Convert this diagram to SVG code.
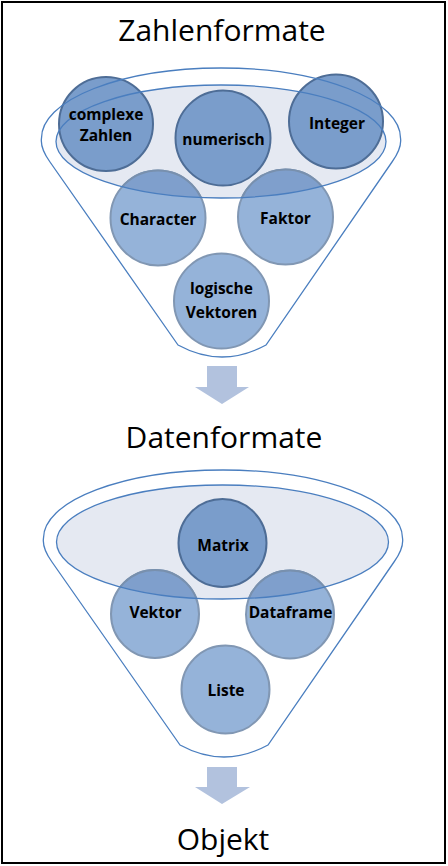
<svg xmlns="http://www.w3.org/2000/svg" width="448" height="866" viewBox="0 0 448 866">
<style>
.frame{fill:#fff;stroke:#000;stroke-width:2}
.title{font-family:"Open Sans","Liberation Sans",sans-serif;font-size:30px;fill:#000;text-anchor:middle}
.lbl{font-family:"Open Sans","Liberation Sans",sans-serif;font-size:15.5px;font-weight:bold;fill:#000;text-anchor:middle}
.funnel{fill:none;stroke:#4a7ebf;stroke-width:1.3}
.ell{fill:#e5e9f2}
.ellStroke{fill:none;stroke:#4a7ebf;stroke-width:1.3}
.top{fill:#7a9dcb;stroke:#4e6d96;stroke-width:2}
.low{fill:#95b3d9;stroke:#8197b3;stroke-width:2}
.lowDark{fill:#7f9fcc;stroke:#7890ae;stroke-width:2}
.arrow{fill:#b2c2de}
</style>
<defs>
<clipPath id="clipE1"><ellipse cx="221" cy="141.5" rx="165" ry="56.5"/></clipPath>
<clipPath id="clipE2"><ellipse cx="222.5" cy="542" rx="166" ry="57"/></clipPath>
</defs>
<rect class="frame" x="2" y="2" width="443" height="861"/>

<g id="title-zahlenformate"><text class="title" x="222" y="41">Zahlenformate</text></g>

<g id="funnel1">
<ellipse class="ell" cx="221" cy="141.5" rx="165" ry="56.5"/>
</g>
<g id="node-character"><circle class="low" cx="158" cy="218" r="47.5"/></g>
<g id="node-faktor"><circle class="low" cx="285.5" cy="217" r="47.5"/></g>
<g id="node-logische"><circle class="low" cx="221.5" cy="301" r="47.5"/></g>
<g clip-path="url(#clipE1)">
<circle class="lowDark" cx="158" cy="218" r="47.5"/>
<circle class="lowDark" cx="285.5" cy="217" r="47.5"/>
</g>
<g id="node-complexe"><circle class="top" cx="106" cy="124" r="47"/></g>
<g id="node-numerisch"><circle class="top" cx="223" cy="138" r="47.5"/></g>
<g id="node-integer"><circle class="top" cx="336" cy="121.5" r="47"/></g>
<g id="funnel1-outline">
<ellipse class="ellStroke" cx="221" cy="141.5" rx="165" ry="56.5"/>
<path class="funnel" d="M 178,345 L 50,162 Q 40,148 41.5,138 A 179.5,70 0 0 1 400.5,138 Q 402,148 392,162 L 266,345 Q 222,369 178,345 Z"/>
</g>
<g id="labels1">
<text class="lbl" x="106" y="120">complexe</text>
<text class="lbl" x="106" y="141">Zahlen</text>
<text class="lbl" x="223.5" y="145">numerisch</text>
<text class="lbl" x="337" y="129">Integer</text>
<text class="lbl" x="158" y="225">Character</text>
<text class="lbl" x="285.5" y="224">Faktor</text>
<text class="lbl" x="221.5" y="294">logische</text>
<text class="lbl" x="221.5" y="318">Vektoren</text>
</g>

<g id="title-datenformate"><text class="title" x="224" y="448">Datenformate</text></g>

<g id="funnel2">
<ellipse class="ell" cx="222.5" cy="542" rx="166" ry="57"/>
</g>
<g id="node-vektor"><circle class="low" cx="155" cy="614" r="44"/></g>
<g id="node-dataframe"><circle class="low" cx="290" cy="614.5" r="44"/></g>
<g id="node-liste"><circle class="low" cx="225.5" cy="689.5" r="44"/></g>
<g clip-path="url(#clipE2)">
<circle class="lowDark" cx="155" cy="614" r="44"/>
<circle class="lowDark" cx="290" cy="614.5" r="44"/>
</g>
<g id="node-matrix"><circle class="top" cx="222.5" cy="543" r="44"/></g>
<g id="funnel2-outline">
<ellipse class="ellStroke" cx="222.5" cy="542" rx="166" ry="57"/>
<path class="funnel" d="M 180,745 L 52,562 Q 42,548 43.5,538 A 179.5,68 0 0 1 402.5,538 Q 404,548 394,562 L 268,745 Q 224,769 180,745 Z"/>
</g>
<g id="labels2">
<text class="lbl" x="223" y="551">Matrix</text>
<text class="lbl" x="155.5" y="618">Vektor</text>
<text class="lbl" x="290.5" y="618">Dataframe</text>
<text class="lbl" x="226" y="696">Liste</text>
</g>

<g id="title-objekt"><text class="title" x="223" y="850">Objekt</text></g>

<g id="connectors">
<polygon class="arrow" points="207,366 237,366 237,387 249,387 222,404 195,387 207,387"/>
<polygon class="arrow" points="207,767 237,767 237,787 250,787 222,804 195,787 207,787"/>
</g>
</svg>
